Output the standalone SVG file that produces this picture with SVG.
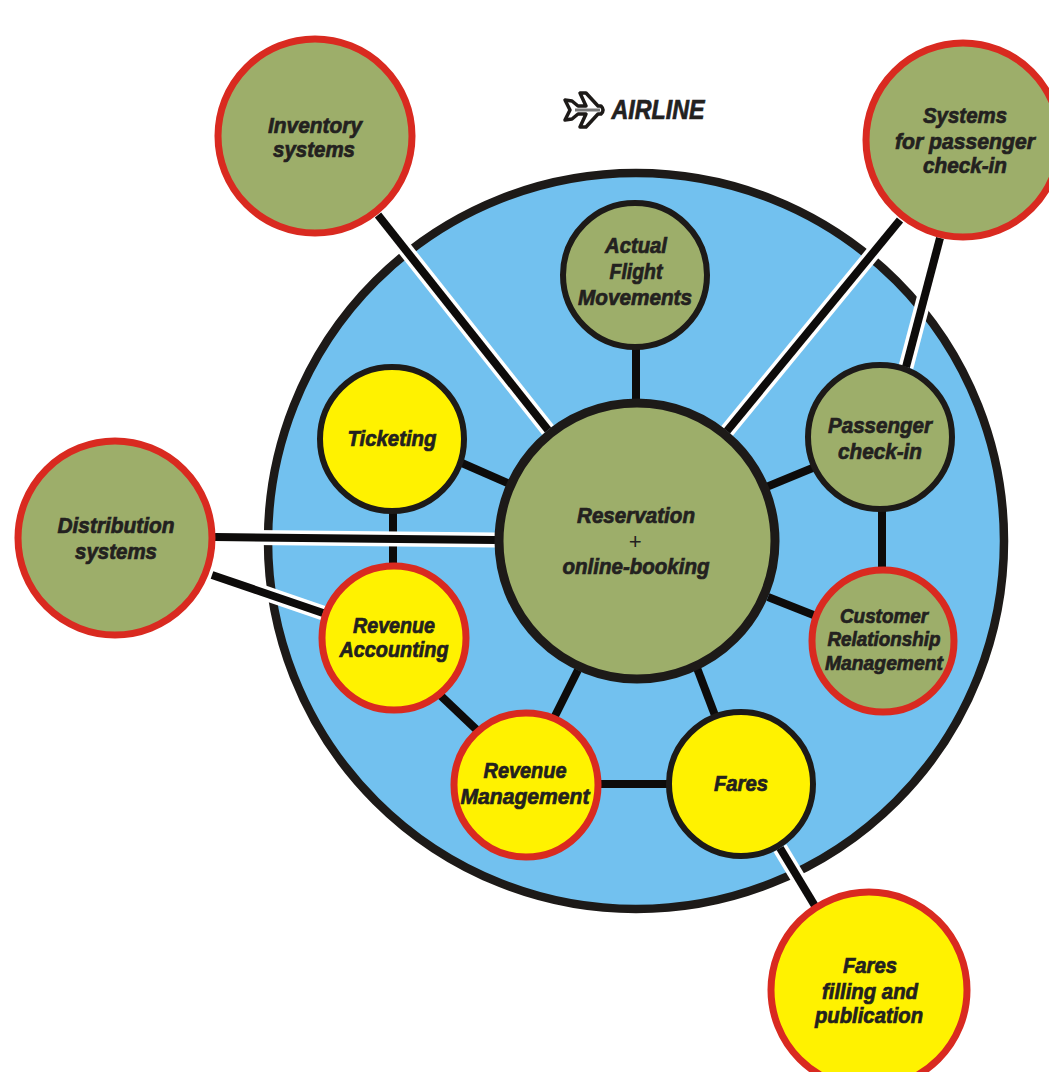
<svg xmlns="http://www.w3.org/2000/svg" width="1049" height="1072" viewBox="0 0 1049 1072">
<style>
.n{stroke:#1d1a18;stroke-width:6}
.r{stroke:#d92a20;stroke-width:7}
.g{fill:#9dae6a}
.y{fill:#fff200}
.c{stroke:#0d0b0a;stroke-width:8;fill:none}
.h{stroke:#fff;stroke-width:15;fill:none}
.s{font-size:19.5px}
text{font-family:"Liberation Sans",Arial,sans-serif;font-weight:700;font-style:italic;font-size:22px;fill:#23211f;stroke:#23211f;stroke-width:.7;text-anchor:middle}
</style>
<circle id="airline-boundary" cx="636" cy="541" r="368" fill="#72c1ef" stroke="#1d1a18" stroke-width="8.5"/>
<g id="connectors">
<line class="c" x1="636" y1="340" x2="636" y2="410"/>
<line class="c" x1="455" y1="460" x2="510" y2="484"/>
<line class="c" x1="393" y1="505" x2="393" y2="575"/>
<line class="c" x1="440" y1="695" x2="480" y2="733"/>
<line class="c" x1="578" y1="670" x2="553" y2="720"/>
<line class="c" x1="697" y1="668" x2="716" y2="718"/>
<line class="c" x1="595" y1="784" x2="672" y2="784"/>
<line class="c" x1="764" y1="488" x2="815" y2="467"/>
<line class="c" x1="882" y1="505" x2="882" y2="575"/>
<line class="c" x1="768" y1="597" x2="816" y2="616"/>
<line class="h" x1="378" y1="215" x2="548" y2="430"/>
<line class="c" x1="378" y1="215" x2="548" y2="430"/>
<line class="h" x1="900" y1="220" x2="727" y2="431"/>
<line class="c" x1="900" y1="220" x2="727" y2="431"/>
<line class="h" x1="940" y1="238" x2="906" y2="367"/>
<line class="c" x1="940" y1="238" x2="906" y2="367"/>
<line class="h" x1="215" y1="537" x2="495" y2="540"/>
<line class="c" x1="215" y1="537" x2="495" y2="540"/>
<line class="h" x1="212" y1="575" x2="323" y2="613"/>
<line class="c" x1="212" y1="575" x2="323" y2="613"/>
<line class="h" x1="780" y1="848" x2="815" y2="906"/>
<line class="c" x1="780" y1="848" x2="815" y2="906"/>
</g>
<g id="airline-label">
<path d="M565 100L572 101L578 106L586 106L580 93L586 93L598 106L601 106Q605 110 601 114L598 114L586 127L580 127L586 114L578 114L572 119L565 120L570 110Z" fill="#fff" stroke="#1d1a18" stroke-width="3.5" stroke-linejoin="round"/>
<line x1="575" y1="110" x2="600" y2="110" stroke="#777" stroke-width="3"/>
<text x="658" y="119" textLength="93" lengthAdjust="spacingAndGlyphs" style="font-size:27px">AIRLINE</text>
</g>
<g id="inventory"><circle class="g r" cx="315" cy="136" r="97"/><text x="315" y="133" textLength="94" lengthAdjust="spacingAndGlyphs">Inventory</text><text x="314" y="157" textLength="82" lengthAdjust="spacingAndGlyphs">systems</text></g>
<g id="check-in-systems"><circle class="g r" cx="963" cy="140" r="97"/><text x="965" y="123" textLength="84" lengthAdjust="spacingAndGlyphs">Systems</text><text x="965" y="149" textLength="140" lengthAdjust="spacingAndGlyphs">for passenger</text><text x="965" y="173" textLength="84" lengthAdjust="spacingAndGlyphs">check-in</text></g>
<g id="flight"><circle class="g n" cx="635" cy="275" r="72"/><text x="636" y="253" textLength="62" lengthAdjust="spacingAndGlyphs">Actual</text><text x="636" y="279" textLength="53" lengthAdjust="spacingAndGlyphs">Flight</text><text x="635" y="305" textLength="114" lengthAdjust="spacingAndGlyphs">Movements</text></g>
<g id="ticketing"><circle class="y n" cx="392" cy="439" r="72"/><text x="392" y="446" textLength="89" lengthAdjust="spacingAndGlyphs">Ticketing</text></g>
<g id="passenger"><circle class="g n" cx="880" cy="437" r="72"/><text x="880" y="433" textLength="104" lengthAdjust="spacingAndGlyphs">Passenger</text><text x="880" y="459" textLength="84" lengthAdjust="spacingAndGlyphs">check-in</text></g>
<g id="distribution"><circle class="g r" cx="115" cy="538" r="97"/><text x="116" y="533" textLength="117" lengthAdjust="spacingAndGlyphs">Distribution</text><text x="116" y="559" textLength="82" lengthAdjust="spacingAndGlyphs">systems</text></g>
<g id="reservation"><circle class="g" cx="637" cy="541" r="138" stroke="#1d1a18" stroke-width="9"/><text x="636" y="523" textLength="118" lengthAdjust="spacingAndGlyphs">Reservation</text><text x="635" y="549" style="font-weight:400;stroke-width:0">+</text><text x="636" y="574" textLength="147" lengthAdjust="spacingAndGlyphs">online-booking</text></g>
<g id="crm"><circle class="g r" cx="883" cy="641" r="71"/><text class="s" x="884" y="623" textLength="88" lengthAdjust="spacingAndGlyphs">Customer</text><text class="s" x="884" y="646" textLength="113" lengthAdjust="spacingAndGlyphs">Relationship</text><text class="s" x="884" y="670" textLength="118" lengthAdjust="spacingAndGlyphs">Management</text></g>
<g id="revenue-accounting"><circle class="y r" cx="394" cy="638" r="72"/><text x="394" y="633" textLength="82" lengthAdjust="spacingAndGlyphs">Revenue</text><text x="394" y="657" textLength="109" lengthAdjust="spacingAndGlyphs">Accounting</text></g>
<g id="revenue-management"><circle class="y r" cx="526" cy="785" r="72"/><text x="525" y="778" textLength="83" lengthAdjust="spacingAndGlyphs">Revenue</text><text x="525" y="804" textLength="129" lengthAdjust="spacingAndGlyphs">Management</text></g>
<g id="fares"><circle class="y n" cx="741" cy="784" r="72"/><text x="741" y="791" textLength="54" lengthAdjust="spacingAndGlyphs">Fares</text></g>
<g id="fares-filing"><circle class="y r" cx="869" cy="990" r="98"/><text x="870" y="973" textLength="54" lengthAdjust="spacingAndGlyphs">Fares</text><text x="870" y="999" textLength="96" lengthAdjust="spacingAndGlyphs">filling and</text><text x="869" y="1023" textLength="108" lengthAdjust="spacingAndGlyphs">publication</text></g>
</svg>
